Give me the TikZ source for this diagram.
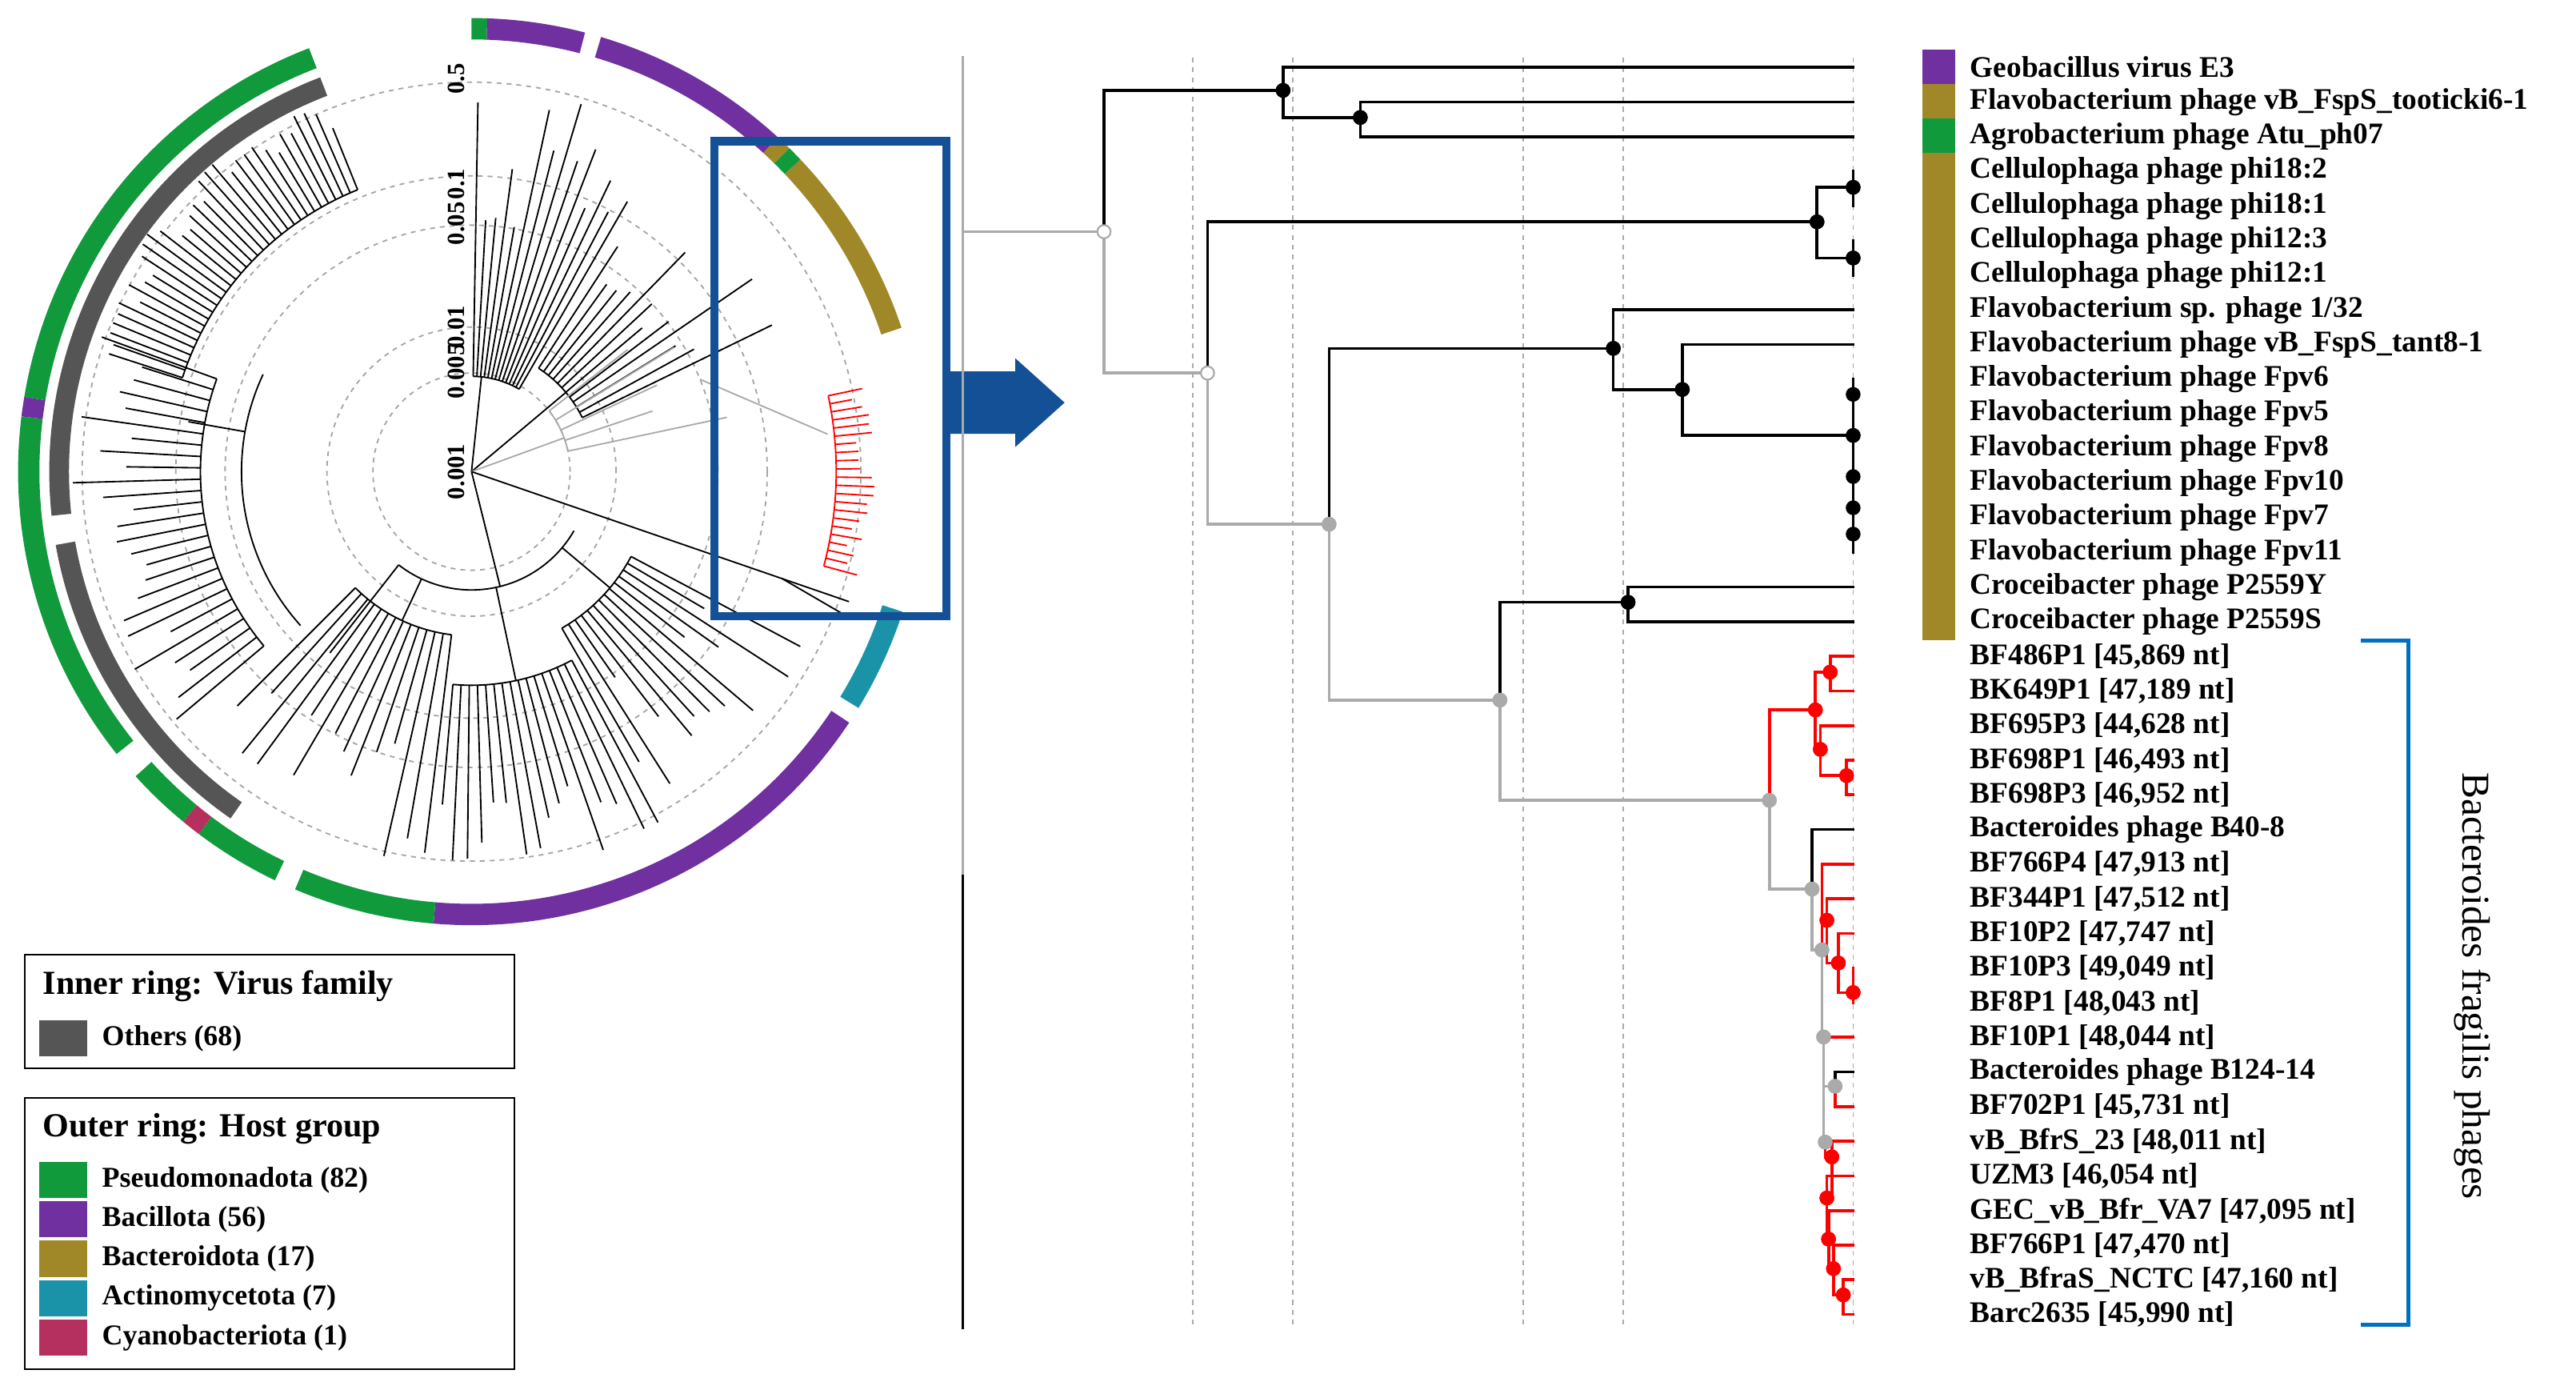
\documentclass[tikz,border=0pt]{standalone}
\usepackage{fontspec}
\setmainfont{Liberation Serif}
\definecolor{cgreen}{RGB}{16,154,60}
\definecolor{cpurple}{RGB}{112,48,160}
\definecolor{cgold}{RGB}{160,136,40}
\definecolor{cteal}{RGB}{26,146,168}
\definecolor{ccrim}{RGB}{181,48,95}
\definecolor{cdgrey}{RGB}{85,85,85}
\definecolor{tgrey}{RGB}{170,170,170}
\definecolor{boxblue}{RGB}{20,80,150}
\definecolor{brblue}{RGB}{0,112,192}
\tikzset{
  br/.style={line width=1.8pt, line cap=rect},
  tb/.style={br, black},
  tg/.style={br, tgrey},
  tr/.style={br, red},
  dk/.style={circle, fill=black, inner sep=0pt, minimum size=9pt},
  dg/.style={circle, fill=tgrey, inner sep=0pt, minimum size=9pt},
  dr/.style={circle, fill=red, inner sep=0pt, minimum size=9pt},
  dw/.style={circle, fill=white, draw=tgrey, line width=1pt, inner sep=0pt, minimum size=8pt},
  lab/.style={anchor=west, font=\bfseries\fontsize{18.2}{18}\selectfont, inner sep=0pt},
  leg/.style={anchor=west, font=\bfseries\fontsize{17.5}{17}\selectfont, inner sep=0pt},
  legt/.style={anchor=west, font=\bfseries\fontsize{20.5}{20}\selectfont, inner sep=0pt},
  scl/.style={rotate=90, font=\bfseries\fontsize{15}{15}\selectfont, inner sep=0pt},
  ct/.style={line width=0.9pt, black},
}
% circular clade: start angle, end angle, base radius, leaves, min tip, max tip, style
\newcommand\myclade[7]{%
  \draw[#7] (#1:#3) arc[start angle=#1, end angle=#2, radius=#3];
  \pgfmathtruncatemacro\nn{#4-1}
  \foreach \k in {0,...,\nn}{
    \pgfmathsetmacro\aa{#1+(#2-#1)*\k/\nn}
    \pgfmathsetmacro\rr{#5+rnd*(#6-#5)}
    \draw[#7] (\aa:#3) -- (\aa:\rr);
  }}
% ring segment: start angle, end angle, colour, inner radius, outer radius
\newcommand\myring[5]{%
  \fill[#3] (#1:#4) arc[start angle=#1, end angle=#2, radius=#4] -- (#2:#5)
    arc[start angle=#2, end angle=#1, radius=#5] -- cycle;}
\begin{document}
\begin{tikzpicture}[x=1pt, y=-1pt]
\useasboundingbox (0,0) rectangle (1568,848);
\pgfmathsetseed{7}

% ---------- circular tree ----------
\begin{scope}[shift={(287,287)}, x=1pt, y=1pt]
  \foreach \r in {60,88,150,180,237}
    \draw[gray!70, dashed, line width=0.9pt] (0,0) circle[radius=\r];
  % outer ring: host group
  \myring{90}{88}{cgreen}{263}{276}
  \myring{88}{75.5}{cpurple}{263}{276}
  \myring{73.4}{47.5}{cpurple}{263}{276}
  \myring{47.5}{45.5}{cgold}{263}{276}
  \myring{45.5}{43.5}{cgreen}{263}{276}
  \myring{43.5}{18.5}{cgold}{263}{276}
  \myring{-18}{-31.4}{cteal}{263}{276}
  \myring{-33.6}{-94.8}{cpurple}{263}{276}
  \myring{-94.8}{-112.9}{cgreen}{263}{276}
  \myring{-115.7}{-127}{cgreen}{263}{276}
  \myring{-127}{-129.5}{ccrim}{263}{276}
  \myring{-129.5}{-137.8}{cgreen}{263}{276}
  \myring{-141.5}{-187}{cgreen}{263}{276}
  \myring{-187}{-189.5}{cpurple}{263}{276}
  \myring{-189.5}{-249}{cgreen}{263}{276}
  % inner ring: virus family
  \myring{111}{186}{cdgrey}{245}{257}
  \myring{190}{235.2}{cdgrey}{245}{257}
  % branches
  \draw[ct] (0,0) -- (84:58);
  \myclade{89}{60}{58}{14}{140}{237}{ct}
  \draw[ct] (0,0) -- (40:75);
  \myclade{57}{26}{75}{12}{130}{225}{ct}
  \draw[ct, tgrey] (0,0) -- (20:60);
  \myclade{38}{12}{60}{5}{90}{160}{ct, tgrey}
  \draw[ct, tgrey] (22:150) -- (6:218);
  \myclade{12}{-15}{222}{22}{232}{246}{ct, red}
  \draw[ct] (0,0) -- (-19:243);
  \draw[ct] (-19:200) -- (-21:243);
  \draw[ct] (0,0) -- (-76:72);
  \draw[ct] (-30:72) arc[start angle=-30, end angle=-128, radius=72];
  \draw[ct] (-40:72) -- (-40:110);
  \myclade{-28}{-60}{110}{14}{150}{232}{ct}
  \draw[ct] (-78:72) -- (-78:130);
  \myclade{-62}{-95}{130}{16}{200}{246}{ct}
  \draw[ct] (-115:72) -- (-115:100);
  \myclade{-97}{-135}{100}{14}{170}{240}{ct}
  \draw[ct] (-128:72) -- (-128:140);
  \draw[ct] (-138:140) arc[start angle=-138, end angle=-205, radius=140];
  \myclade{-140}{-200}{165}{26}{205}{244}{ct}
  \draw[ct] (-190:140) -- (-190:175);
  \myclade{-198}{-248}{185}{34}{225}{247}{ct}
\end{scope}
\node[scl] (s1) at (278,48) {0.5};
\node[scl] (s2) at (278,112) {0.1};
\node[scl] (s3) at (278,136) {0.05};
\node[scl] (s4) at (278,199) {0.01};
\node[scl] (s5) at (278,226) {0.005};
\node[scl] (s6) at (278,287) {0.001};

% zoom box and arrow
\draw[boxblue, line width=5pt] (435,86) rectangle (576,375);
\fill[boxblue] (575,226) -- (618,226) -- (618,218) -- (648,245) -- (618,272) -- (618,264) -- (575,264) -- cycle;

% ---------- legends ----------
\draw[line width=1pt] (15,581) rectangle (313,650);
\node[legt] (lt1) at (26,600) {Inner ring: Virus family};
\fill[cdgrey] (24,621) rectangle (53,643);
\node[leg] (lg0) at (62,632) {Others (68)};
\draw[line width=1pt] (15,668) rectangle (313,833);
\node[legt] (lt2) at (26,687) {Outer ring: Host group};
\foreach \c/\t [count=\i] in {cgreen/Pseudomonadota (82), cpurple/Bacillota (56),
    cgold/Bacteroidota (17), cteal/Actinomycetota (7), ccrim/Cyanobacteriota (1)}{
  \fill[\c] (24,{707+24*(\i-1)}) rectangle (53,{729+24*(\i-1)});
  \node[leg] (lg\i) at (62,{718+24*(\i-1)}) {\t};
}

% ---------- rectangular tree ----------
\foreach \x in {726,787,927,988,1128}
  \draw[tgrey, dashed, line width=0.8pt] (\x,35) -- (\x,808);
\coordinate (axt) at (586,35);
\coordinate (axm) at (586,533);
\coordinate (axb) at (586,808);
\draw[tg] (axt) -- (axm);
\draw[tb] (axm) -- (axb);

\foreach \t [count=\i] in {Geobacillus virus E3, Flavobacterium phage vB\_FspS\_tooticki6-1,
  Agrobacterium phage Atu\_ph07, Cellulophaga phage phi18:2, Cellulophaga phage phi18:1,
  Cellulophaga phage phi12:3, Cellulophaga phage phi12:1, Flavobacterium sp. phage 1/32,
  Flavobacterium phage vB\_FspS\_tant8-1, Flavobacterium phage Fpv6, Flavobacterium phage Fpv5,
  Flavobacterium phage Fpv8, Flavobacterium phage Fpv10, Flavobacterium phage Fpv7,
  Flavobacterium phage Fpv11, Croceibacter phage P2559Y, Croceibacter phage P2559S,
  {BF486P1 [45,869 nt]}, {BK649P1 [47,189 nt]}, {BF695P3 [44,628 nt]}, {BF698P1 [46,493 nt]},
  {BF698P3 [46,952 nt]}, Bacteroides phage B40-8, {BF766P4 [47,913 nt]}, {BF344P1 [47,512 nt]},
  {BF10P2 [47,747 nt]}, {BF10P3 [49,049 nt]}, {BF8P1 [48,043 nt]}, {BF10P1 [48,044 nt]},
  Bacteroides phage B124-14, {BF702P1 [45,731 nt]}, {vB\_BfrS\_23 [48,011 nt]},
  {UZM3 [46,054 nt]}, {GEC\_vB\_Bfr\_VA7 [47,095 nt]}, {BF766P1 [47,470 nt]},
  {vB\_BfraS\_NCTC [47,160 nt]}, {Barc2635 [45,990 nt]}}{
  \coordinate (l\i) at (1128,{41+21.08*(\i-1)});
  \node[lab] (t\i) at (1199,{41+21.08*(\i-1)}) {\t};
}
\foreach \c [count=\i] in {cpurple,cgold,cgreen,cgold,cgold,cgold,cgold,cgold,cgold,
    cgold,cgold,cgold,cgold,cgold,cgold,cgold,cgold}
  \fill[\c] (1170,{30+21.08*(\i-1)}) rectangle (1190,{52.5+21.08*(\i-1)});

% internal nodes
\coordinate (ax) at (586,141);
\node[dw] (A) at (672,141) {};
\node[dk] (B) at (781,55) {};
\node[dk] (C) at (828,71.5) {};
\node[dw] (D) at (735,227) {};
\node[dk] (E) at (1106,135) {};
\node[dk] (F) at (1128,114) {};
\node[dk] (G) at (1128,157) {};
\node[dg] (H) at (809,319) {};
\node[dk] (I) at (982,212) {};
\node[dk] (J) at (1024,237) {};
\node[dk] (K) at (1128,265) {};
\node[dg] (L) at (913,426) {};
\node[dk] (M) at (991,366.5) {};
\node[dg] (N) at (1077,487) {};
\node[dr] (O) at (1105,432) {};
\node[dr] (P) at (1114,409) {};
\node[dr] (Q) at (1108,456) {};
\node[dr] (R) at (1124,472) {};
\node[dg] (S) at (1103,541) {};
\node[dg] (T) at (1109,578) {};
\node[dr] (V) at (1112,560) {};
\node[dr] (W) at (1119,586) {};
\node[dr] (X) at (1128,604) {};
\node[dg] (Y) at (1110,631) {};
\node[dg] (AA) at (1117,661) {};
\node[dg] (Z) at (1111,695) {};
\node[dr] (Z1) at (1115,704) {};
\node[dr] (Z2) at (1112,729) {};
\node[dr] (Z3) at (1113,754) {};
\node[dr] (Z4) at (1116,772) {};
\node[dr] (Z5) at (1122,788) {};

\draw[tg] (ax) -- (A.center);
\draw[tb] (A.center) |- (B.center);
\draw[tb] (B.center) |- (l1);
\draw[tb] (B.center) |- (C.center);
\draw[tb] (C.center) |- (l2);
\draw[tb] (C.center) |- (l3);
\draw[tg] (A.center) |- (D.center);
\draw[tb] (D.center) |- (E.center);
\draw[tb] (E.center) |- (F.center);
\draw[tb] (E.center) |- (G.center);
\draw[tb] (F.center) -- (l4);
\draw[tb] (F.center) -- (l5);
\draw[tb] (G.center) -- (l6);
\draw[tb] (G.center) -- (l7);
\draw[tg] (D.center) |- (H.center);
\draw[tb] (H.center) |- (I.center);
\draw[tb] (I.center) |- (l8);
\draw[tb] (I.center) |- (J.center);
\draw[tb] (J.center) |- (l9);
\draw[tb] (J.center) |- (K.center);
\draw[tb] (l10) -- (l15);
\draw[tg] (H.center) |- (L.center);
\draw[tb] (L.center) |- (M.center);
\draw[tb] (M.center) |- (l16);
\draw[tb] (M.center) |- (l17);
\draw[tg] (L.center) |- (N.center);
\draw[tr] (N.center) |- (O.center);
\draw[tr] (O.center) |- (P.center);
\draw[tr] (P.center) |- (l18);
\draw[tr] (P.center) |- (l19);
\draw[tr] (O.center) |- (Q.center);
\draw[tr] (Q.center) |- (l20);
\draw[tr] (Q.center) |- (R.center);
\draw[tr] (R.center) |- (l21);
\draw[tr] (R.center) |- (l22);
\draw[tg] (N.center) |- (S.center);
\draw[tb] (S.center) |- (l23);
\draw[tg] (S.center) |- (T.center);
\draw[tr] (T.center) |- (l24);
\draw[tr] (T.center) |- (V.center);
\draw[tr] (V.center) |- (l25);
\draw[tr] (V.center) |- (W.center);
\draw[tr] (W.center) |- (l26);
\draw[tr] (W.center) |- (X.center);
\draw[tr] (X.center) -- (l27);
\draw[tr] (X.center) -- (l28);
\draw[tg] (T.center) |- (Y.center);
\draw[tr] (Y.center) |- (l29);
\draw[tg] (Y.center) |- (AA.center);
\draw[tb] (AA.center) |- (l30);
\draw[tr] (AA.center) |- (l31);
\draw[tg] (Y.center) |- (Z.center);
\draw[tr] (Z.center) |- (Z1.center);
\draw[tr] (Z1.center) |- (l32);
\draw[tr] (Z1.center) |- (Z2.center);
\draw[tr] (Z2.center) |- (l33);
\draw[tr] (Z2.center) |- (Z3.center);
\draw[tr] (Z3.center) |- (l34);
\draw[tr] (Z3.center) |- (Z4.center);
\draw[tr] (Z4.center) |- (l35);
\draw[tr] (Z4.center) |- (Z5.center);
\draw[tr] (Z5.center) |- (l36);
\draw[tr] (Z5.center) |- (l37);
% redraw dots over the branches
\foreach \n in {B,C,E,F,G,I,J,K,M} \node[dk] at (\n) {};
\foreach \n in {H,L,N,S,T,Y,AA,Z} \node[dg] at (\n) {};
\foreach \n in {O,P,Q,R,V,W,X,Z1,Z2,Z3,Z4,Z5} \node[dr] at (\n) {};
\foreach \n in {A,D} \node[dw] at (\n) {};
\foreach \yy in {240,290,309,325} \node[dk] (kd\yy) at (1128,\yy) {};

% bracket
\coordinate (bt0) at (1437,390);
\coordinate (bt1) at (1466,390);
\coordinate (bb1) at (1466,806);
\coordinate (bb0) at (1437,806);
\draw[brblue, line width=2.5pt] (bt0) -- (bt1) -- (bb1) -- (bb0);
\node[rotate=-90, font=\fontsize{24}{24}\selectfont] (bl) at (1505,600) {Bacteroides fragilis phages};
\end{tikzpicture}
\end{document}
